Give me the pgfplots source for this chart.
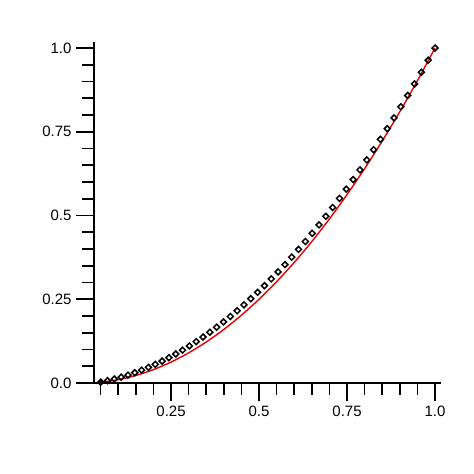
\documentclass[border=0pt]{standalone}
\usepackage{fontspec}
\setmainfont{Liberation Sans}
\usepackage{pgfplots}
\pgfplotsset{compat=1.18}

\begin{document}
\begin{tikzpicture}
\begin{axis}[
  at={(94pt,91pt)}, anchor=south west,
  scale only axis,
  width=347pt, height=341pt,
  xmin=0.031, xmax=1.017,
  ymin=0, ymax=1.018,
  axis lines=left,
  axis line style={-, line width=1.7pt},
  tick align=outside,
  major tick length=18pt,
  minor tick length=12pt,
  every tick/.style={black, line width=1.6pt},
  xtick={0.25,0.5,0.75,1.0},
  xticklabels={0.25,0.5,0.75,1.0},
  minor xtick={0.05,0.1,0.15,0.2,0.3,0.35,0.4,0.45,0.55,0.6,0.65,0.7,0.8,0.85,0.9,0.95},
  ytick={0,0.25,0.5,0.75,1.0},
  yticklabels={0.0,0.25,0.5,0.75,1.0},
  minor ytick={0.05,0.1,0.15,0.2,0.3,0.35,0.4,0.45,0.55,0.6,0.65,0.7,0.8,0.85,0.9,0.95},
  tick label style={font=\fontsize{15}{15}\selectfont},
  xticklabel style={yshift=-1pt},
  yticklabel style={xshift=-1pt},
  /pgf/number format/assume math mode=true,
  clip=false,
]
% red curve
\addplot[red!90!black, line width=1.4pt, smooth] coordinates {
  (0.05,0.0025) (0.1,0.01) (0.15,0.0225) (0.2,0.04) (0.25,0.0625)
  (0.3,0.09) (0.35,0.1225) (0.4,0.16) (0.45,0.2025) (0.5,0.25)
  (0.55,0.3025) (0.6,0.36) (0.65,0.4225) (0.7,0.49) (0.75,0.5625)
  (0.8,0.64) (0.85,0.7225) (0.9,0.81) (0.95,0.9025) (1.0,1.0)
};
% diamond points
\addplot[only marks, mark=square, mark size=2.1pt,
  mark options={rotate=45, line width=1.5pt, draw=black}] coordinates {
  (0.06939,0.0068) (0.08878,0.0118) (0.10816,0.0174) (0.12755,0.0237)
  (0.14694,0.0307) (0.16633,0.0383) (0.18571,0.0466) (0.20510,0.0556)
  (0.22449,0.0653) (0.24388,0.0756) (0.26327,0.0866) (0.28265,0.0982)
  (0.30204,0.1106) (0.32143,0.1236) (0.34082,0.1372) (0.36020,0.1516)
  (0.37959,0.1666) (0.39898,0.1823) (0.41837,0.1986) (0.43776,0.2156)
  (0.45714,0.2333) (0.47653,0.2516) (0.49592,0.2707) (0.51531,0.2904)
  (0.53469,0.3107) (0.55408,0.3317) (0.57347,0.3534) (0.59286,0.3758)
  (0.61224,0.3988) (0.63163,0.4225) (0.65102,0.4469) (0.67041,0.4719)
  (0.68980,0.4977) (0.70918,0.5240) (0.72857,0.5511) (0.74796,0.5788)
  (0.76735,0.6072) (0.78673,0.6362) (0.80612,0.6660) (0.82551,0.6964)
  (0.84490,0.7274) (0.86429,0.7592) (0.88367,0.7915) (0.90306,0.8246)
  (0.92245,0.8584) (0.94184,0.8928) (0.96122,0.9278) (0.98061,0.9636)
  (1.0,1.0)
};
\addplot[only marks, mark=square*, mark size=2.1pt,
  mark options={rotate=45, line width=1.5pt, draw=black, fill=black}] coordinates {
  (0.05,0.0025)
};
\end{axis}
\pgfresetboundingbox
\path (0,0) rectangle (474pt,474pt);
\end{tikzpicture}
\end{document}
